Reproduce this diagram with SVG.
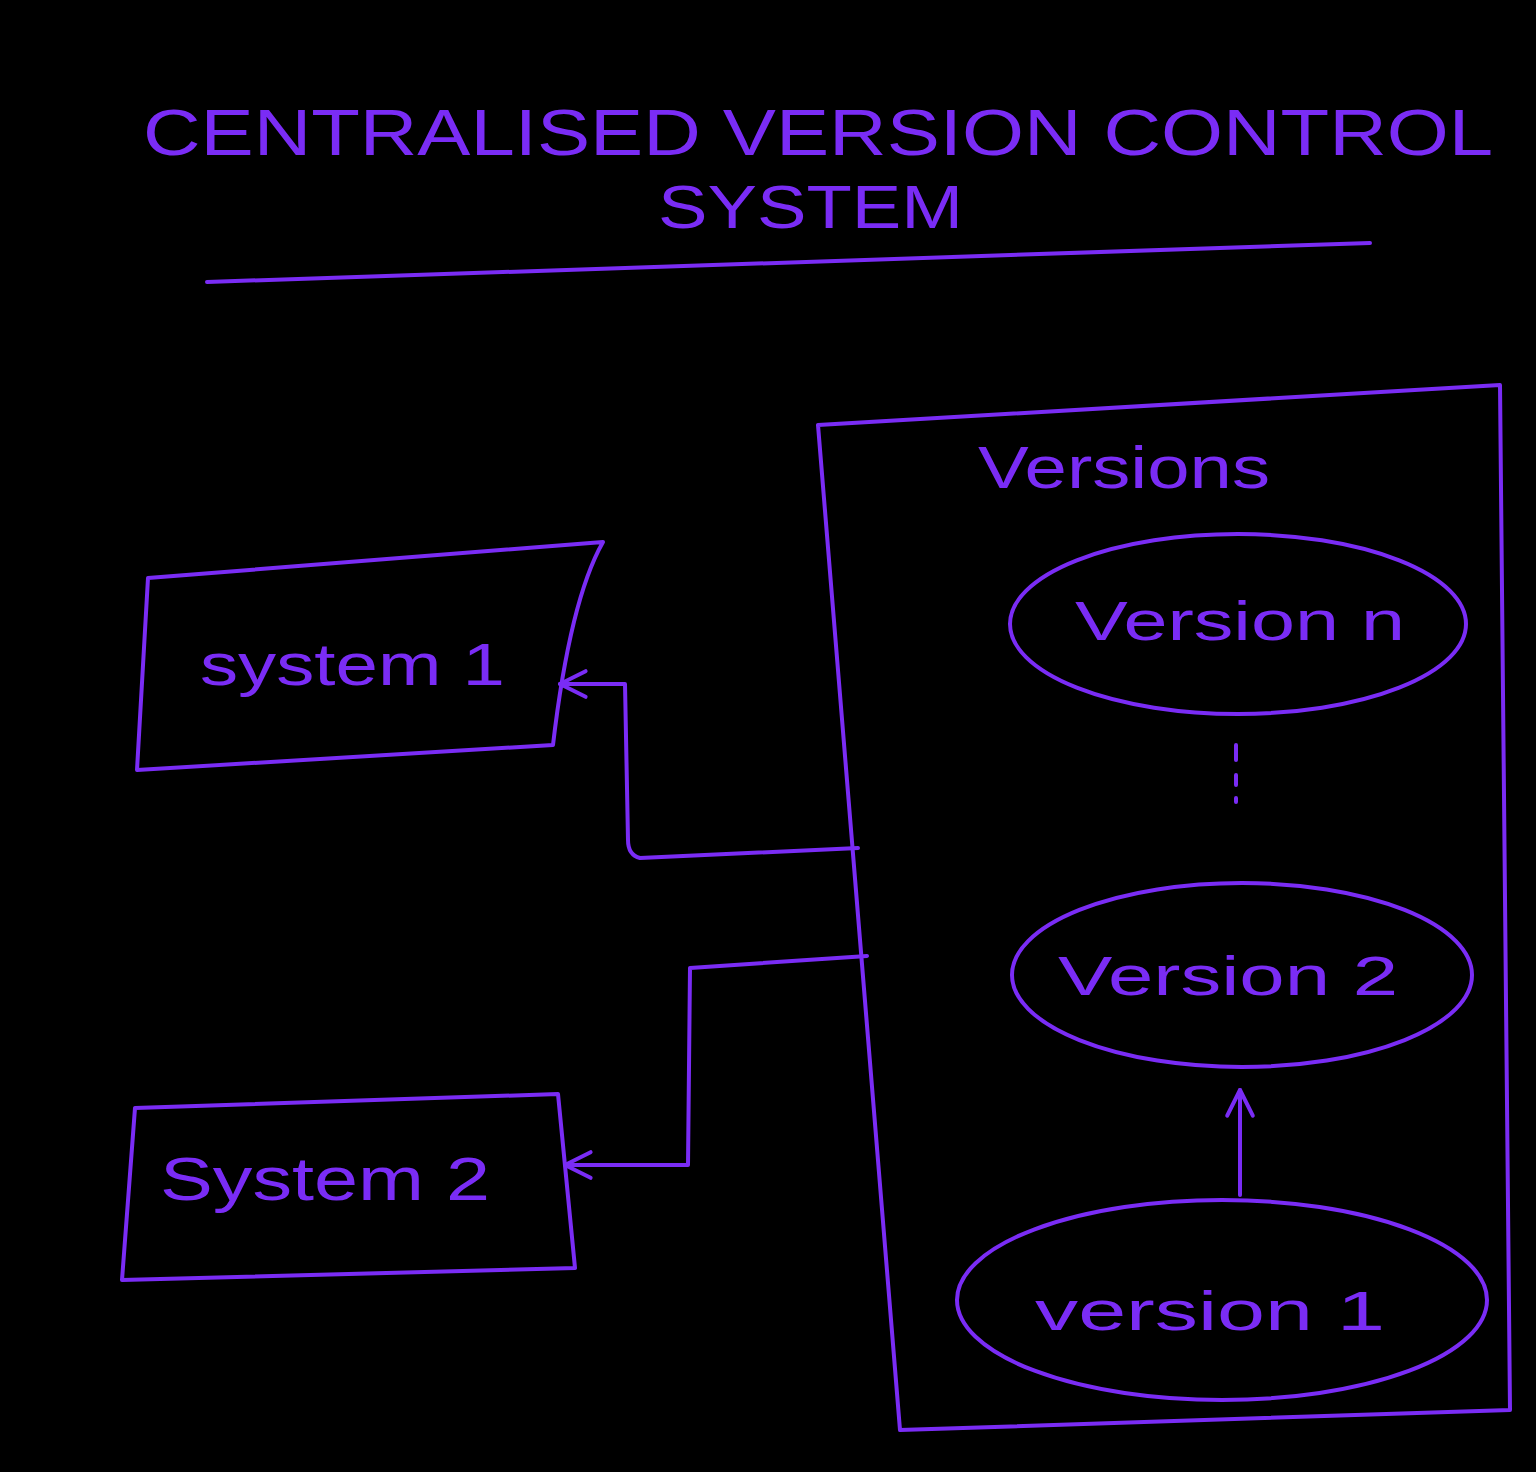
<svg xmlns="http://www.w3.org/2000/svg" width="1536" height="1472" viewBox="0 0 1536 1472">
<defs>
<style>
.s{fill:none;stroke:#7a2cf5;stroke-width:4;stroke-linecap:round;stroke-linejoin:round}
.t{fill:#7a2cf5;font-family:"Liberation Sans",sans-serif}
</style>
<marker id="a" viewBox="0 0 20 20" refX="18" refY="10" markerWidth="32" markerHeight="32" markerUnits="userSpaceOnUse" orient="auto">
<path d="M2,2 L18,10 L2,18" fill="none" stroke="#7a2cf5" stroke-width="2.5" stroke-linecap="round" stroke-linejoin="round"/>
</marker>
</defs>
<rect width="1536" height="1472" fill="#000"/>
<g id="title">
<text class="t" x="143" y="155" font-size="64" textLength="1350" lengthAdjust="spacingAndGlyphs">CENTRALISED VERSION   CONTROL</text>
<text class="t" x="658" y="228" font-size="62" textLength="305" lengthAdjust="spacingAndGlyphs">SYSTEM</text>
<path class="s" d="M207,282 L1370,243"/>
</g>
<g id="versions-box">
<path class="s" d="M818,425 L1500,385 L1510,1410 L900,1430 Z"/>
<text class="t" x="978" y="488" font-size="60" textLength="292" lengthAdjust="spacingAndGlyphs">Versions</text>
</g>
<g id="version-n">
<ellipse class="s" cx="1238" cy="624" rx="228" ry="90"/>
<text class="t" x="1075" y="640" font-size="56" textLength="330" lengthAdjust="spacingAndGlyphs">Version n</text>
</g>
<g id="dots"><path class="s" d="M1236,745 L1236,760 M1236,775 L1236,785 M1236,798 L1236,802"/></g>
<g id="version-2">
<ellipse class="s" cx="1242" cy="975" rx="230" ry="92"/>
<text class="t" x="1058" y="995" font-size="56" textLength="340" lengthAdjust="spacingAndGlyphs">Version 2</text>
</g>
<g id="version-1">
<ellipse class="s" cx="1222" cy="1300" rx="265" ry="100"/>
<text class="t" x="1035" y="1330" font-size="56" textLength="350" lengthAdjust="spacingAndGlyphs">version 1</text>
</g>
<g id="system-1">
<path class="s" d="M148,578 L603,542 Q570,600 553,745 L137,770 Z"/>
<text class="t" x="200" y="685" font-size="60" textLength="305" lengthAdjust="spacingAndGlyphs">system 1</text>
</g>
<g id="system-2">
<path class="s" d="M135,1108 L558,1094 L575,1268 L122,1280 Z"/>
<text class="t" x="160" y="1200" font-size="62" textLength="330" lengthAdjust="spacingAndGlyphs">System 2</text>
</g>
<g id="connectors">
<path class="s" d="M858,848 L640,858 Q628,855 628,840 L625,684 L560,684" marker-end="url(#a)"/>
<path class="s" d="M867,956 L690,968 L688,1165 L565,1165" marker-end="url(#a)"/>
<path class="s" d="M1240,1195 L1240,1090" marker-end="url(#a)"/>
</g>
</svg>
